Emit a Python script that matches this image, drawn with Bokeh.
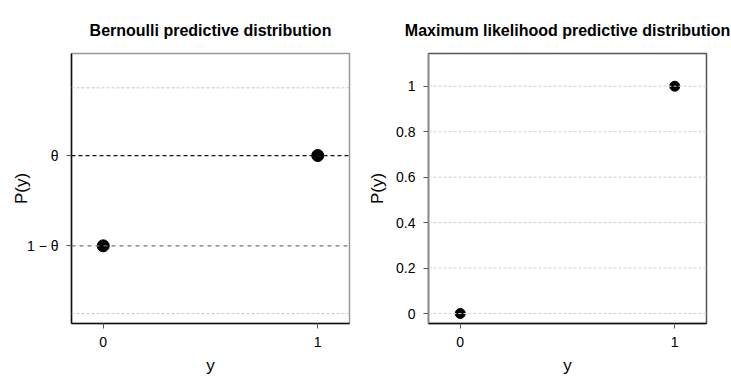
from bokeh.plotting import figure
from bokeh.layouts import row
from bokeh.models import FixedTicker, Span, Title
from bokeh.embed import file_html
from bokeh.resources import INLINE

# ---- data ----
y_outcomes = [0, 1]
theta = 0.6
bern_probs = [1 - theta, theta]          # P(y=0)=1-theta, P(y=1)=theta
bern_tick_vals = [1 - theta, theta]
bern_tick_labels = ["1 \u2212 \u03b8", "\u03b8"]
bern_grid_vals = [0.25, 0.75]
ml_probs = [0, 1]
ml_tick_vals = [0, 0.2, 0.4, 0.6, 0.8, 1]
ml_tick_labels = ["0", "0.2", "0.4", "0.6", "0.8", "1"]
x_tick_vals = [0, 1]

FONT = "Liberation Sans"


def base_fig(title_text, width, left, right, y_range, ylab_standoff):
    p = figure(width=width, height=382, x_range=(-0.148, 1.148), y_range=y_range,
               output_backend="svg", toolbar_location=None,
               min_border_left=left, min_border_right=right,
               min_border_top=53, min_border_bottom=59)
    t = Title(text=title_text, align="center", text_font=FONT,
              text_font_size="16px", text_font_style="bold",
              text_color="black", standoff=29)
    p.add_layout(t, "above")
    p.outline_line_color = "#999999"
    p.outline_line_width = 1.5
    p.background_fill_color = "white"
    p.border_fill_color = "white"
    p.xgrid.visible = False
    p.ygrid.visible = False
    for ax in (p.xaxis[0], p.yaxis[0]):
        ax.axis_line_color = "#111111"
        ax.axis_line_width = 1.5
        ax.major_tick_line_color = "#555555"
        ax.major_tick_in = 0
        ax.major_tick_out = 5
        ax.minor_tick_line_color = None
        ax.major_label_text_font = FONT
        ax.major_label_text_font_size = "14px"
        ax.major_label_text_color = "black"
        ax.axis_label_text_font = FONT
        ax.axis_label_text_font_size = "17px"
        ax.axis_label_text_font_style = "normal"
        ax.axis_label_text_color = "black"
    p.xaxis[0].ticker = FixedTicker(ticks=x_tick_vals)
    p.xaxis[0].major_label_standoff = 8
    p.xaxis[0].axis_label = "y"
    p.xaxis[0].axis_label_standoff = 6
    p.yaxis[0].axis_label = "P(y)"
    p.yaxis[0].major_label_standoff = 8
    p.yaxis[0].axis_label_standoff = ylab_standoff
    p.yaxis[0].major_label_orientation = "horizontal"
    return p


# ---- left: Bernoulli ----
p1 = base_fig("Bernoulli predictive distribution", 365, 71, 16, (0.228, 0.826), -7)
p1.yaxis[0].ticker = FixedTicker(ticks=bern_tick_vals)
p1.yaxis[0].major_label_overrides = {v: l for v, l in zip(bern_tick_vals, bern_tick_labels)}
for g in bern_grid_vals:
    p1.add_layout(Span(location=g, dimension="width", line_color="#c8c8c8",
                       line_dash="3 2", line_width=1))
p1.add_layout(Span(location=bern_probs[1], dimension="width", line_color="#111111",
                   line_dash="4 3", line_width=1.3))
p1.add_layout(Span(location=bern_probs[0], dimension="width", line_color="#777777",
                   line_dash="4 4", line_width=1.1))
p1.scatter(y_outcomes, bern_probs, size=12, color="black")

# ---- right: maximum likelihood ----
p2 = base_fig("Maximum likelihood predictive distribution", 366, 63, 25, (-0.044, 1.144), 6)
p2.yaxis[0].ticker = FixedTicker(ticks=ml_tick_vals)
p2.yaxis[0].major_label_overrides = {v: l for v, l in zip(ml_tick_vals, ml_tick_labels)}
p2.yaxis[0].axis_line_color = "#888888"
p2.outline_line_color = "#555555"
p2.scatter(y_outcomes, ml_probs, size=10, color="black")
for g in ml_tick_vals:
    p2.add_layout(Span(location=g, dimension="width", line_color="#d0d0d0",
                       line_dash="3 2", line_width=1, level="overlay"))

layout = row(p1, p2)
open("out.html", "w").write(file_html(layout, INLINE))
